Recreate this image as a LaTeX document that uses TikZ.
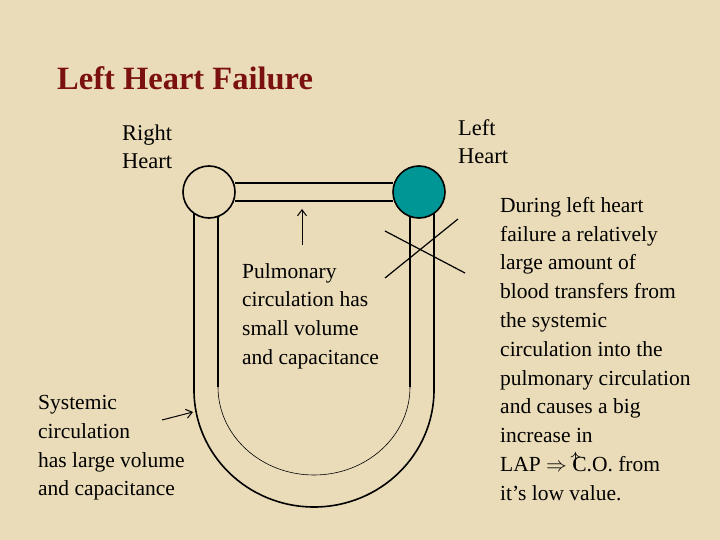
\documentclass[tikz,border=0pt]{standalone}
\usepackage{fontspec}
\setmainfont{Liberation Serif}
\usetikzlibrary{arrows.meta}
\begin{document}
\begin{tikzpicture}[x=1pt,y=-1pt,
  txt/.style={anchor=north west,align=left,inner sep=0pt,font=\fontsize{21.5}{28.8}\selectfont},
  thick line/.style={line width=1.6pt},
  thin line/.style={line width=0.6pt},
  arr/.style={line width=1pt,-{Straight Barb[length=6pt,width=9pt]}}]
\fill[fill={rgb,255:red,234;green,220;blue,184}] (0,0) rectangle (720,540);
\useasboundingbox (0,0) rectangle (720,540);
\node[anchor=base west,inner sep=0pt,font=\fontsize{32.5}{36}\selectfont\bfseries,text={rgb,255:red,122;green,16;blue,16}] (title) at (57,90) {Left Heart Failure};
\node[txt,font=\fontsize{22.5}{28}\selectfont] (rh) at (122,125) {Right\\Heart};
\node[txt,font=\fontsize{22.5}{28}\selectfont] (lh) at (458,119) {Left\\Heart};
% tube
\draw[thick line] (235,183) -- (393,183);
\draw[thick line] (235,201) -- (393,201);
\draw[thick line] (194,213) -- (194,390) arc[start angle=180,end angle=0,x radius=120,y radius=117] -- (434,213);
\draw[thick line] (218,216) -- (218,387);
\draw[thick line] (410,216) -- (410,387);
\draw[thin line] (218,387) arc[start angle=180,end angle=0,x radius=96,y radius=88];
\node[circle,draw,line width=1.6pt,minimum size=52pt,inner sep=0pt,fill={rgb,255:red,234;green,220;blue,184}] (rc) at (209,192) {};
\node[circle,draw,line width=1.6pt,minimum size=52pt,inner sep=0pt,fill={rgb,255:red,0;green,150;blue,150}] (lc) at (419,192) {};
% cross
\draw[line width=1.2pt] (385,231) -- (465,273);
\draw[line width=1.2pt] (385,278) -- (458,219);
% arrows
\coordinate (ua1) at (302,245); \coordinate (ua2) at (302,209);
\draw[arr] (ua1) -- (ua2);
\coordinate (la1) at (162,420); \coordinate (la2) at (193,412);
\draw[arr] (la1) -- (la2);
\node[txt] (pul) at (242,263) {Pulmonary\\circulation has\\small volume\\and capacitance};
\node[txt] (sys) at (38,395) {Systemic\\circulation\\has large volume\\and capacitance};
\node[txt] (desc) at (500,197) {During left heart\\failure a relatively\\large amount of\\blood transfers from\\the systemic\\circulation into the\\pulmonary circulation\\and causes a big\\increase in\\LAP $\Rightarrow$ \makebox[0pt][l]{\raisebox{5pt}{\kern-2pt$\uparrow$}}C.O. from\\it’s low value.};
\end{tikzpicture}
\end{document}
